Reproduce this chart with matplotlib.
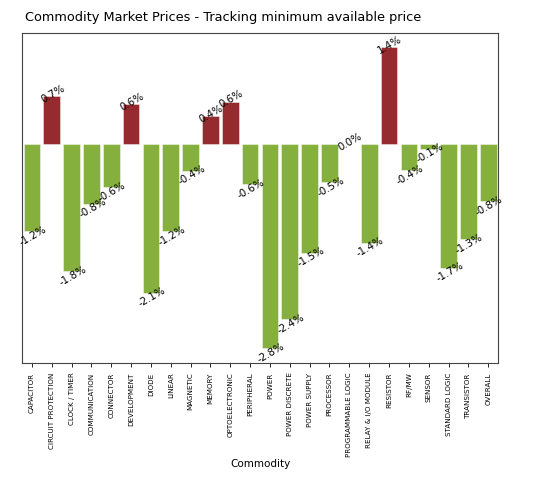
import matplotlib
matplotlib.use("Agg")
import matplotlib.pyplot as plt

commodities = ["CAPACITOR", "CIRCUIT PROTECTION", "CLOCK / TIMER", "COMMUNICATION",
               "CONNECTOR", "DEVELOPMENT", "DIODE", "LINEAR", "MAGNETIC", "MEMORY",
               "OPTOELECTRONIC", "PERIPHERAL", "POWER", "POWER DISCRETE", "POWER SUPPLY",
               "PROCESSOR", "PROGRAMMABLE LOGIC", "RELAY & I/O MODULE", "RESISTOR",
               "RF/MW", "SENSOR", "STANDARD LOGIC", "TRANSISTOR", "OVERALL"]
change = [-1.21, 0.67, -1.77, -0.83, -0.60, 0.56, -2.07, -1.21, -0.37, 0.39,
          0.59, -0.56, -2.84, -2.44, -1.51, -0.53, 0.0, -1.37, 1.35,
          -0.36, -0.06, -1.72, -1.32, -0.79]

green = "#86b03d"
red = "#962b2f"

fig = plt.figure(figsize=(5.51, 4.85), dpi=100)
ax = fig.add_axes([0.040, 0.249, 0.864, 0.681])

x = list(range(len(commodities)))
colors = [red if v > 0 else green for v in change]
ax.bar(x, change, width=0.84, color=colors, edgecolor=(1, 1, 1, 0.5), linewidth=0.6)

for xi, v in zip(x, change):
    off = 0.05 if v >= 0 else -0.05
    ax.text(xi + 0.05, v + off, f"{v:.1f}%", rotation=30, ha="center", va="center",
            fontsize=7.4)

ax.set_xlim(-0.5, len(commodities) - 0.5)
ax.set_ylim(-3.05, 1.55)
ax.set_yticks([])
ax.set_xticks(x)
ax.set_xticklabels(commodities, rotation=90, fontsize=5.1)
ax.tick_params(axis="x", length=3, width=0.6, pad=3)
for s in ax.spines.values():
    s.set_color("#444444")
    s.set_linewidth(0.8)
ax.set_xlabel("Commodity", fontsize=7.5, labelpad=1)
ax.set_title("Commodity Market Prices - Tracking minimum available price",
             loc="left", fontsize=9.3, x=0.006, pad=9)

fig.savefig("out.png", dpi=100)
